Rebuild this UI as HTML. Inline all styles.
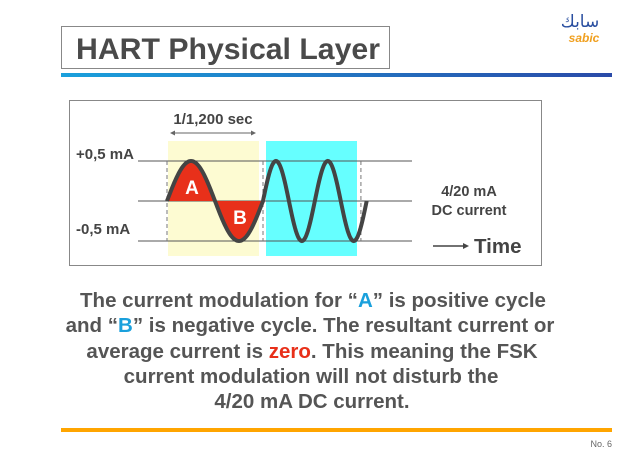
<!DOCTYPE html>
<html><head><meta charset="utf-8"><style>
body{margin:0;width:638px;height:456px;background:#fff;overflow:hidden;font-family:"Liberation Sans",Arial,sans-serif}
svg{position:absolute;left:0;top:0}
</style></head><body>
<svg width="638" height="456">
  <g>
    <text x="580" y="27" font-size="17" fill="#2a4fa0" text-anchor="middle" font-family="DejaVu Sans,sans-serif">سابك</text>
    <text x="584" y="42" font-size="12" fill="#f0a020" text-anchor="middle" font-style="italic" font-weight="bold">sabic</text>
  </g>
  <rect x="61.5" y="26.5" width="328" height="42" fill="#fff" stroke="#888" stroke-width="1"/>
  <text x="76" y="59" font-size="29.5" font-weight="bold" fill="#4a4a4a" textLength="304" lengthAdjust="spacingAndGlyphs">HART Physical Layer</text>
  <defs><linearGradient id="bg" x1="0" x2="1"><stop offset="0" stop-color="#1aa0dc"/><stop offset="1" stop-color="#2a4aa8"/></linearGradient></defs>
  <rect x="61" y="73" width="551" height="4" fill="url(#bg)"/>
  <rect x="69.5" y="100.5" width="472" height="165" fill="#fff" stroke="#888"/>
  <rect x="168" y="141" width="91" height="115" fill="#fdfbd2"/>
  <rect x="266" y="141" width="91" height="115" fill="#66ffff"/>
  <g id="chart"></g>
  <text x="213" y="124" font-size="15" font-weight="bold" fill="#444" text-anchor="middle">1/1,200 sec</text>
  <line x1="172" y1="133" x2="254" y2="133" stroke="#666" stroke-width="1"/>
  <polygon points="170,133 175,130.5 175,135.5" fill="#666"/>
  <polygon points="256,133 251,130.5 251,135.5" fill="#666"/>
  <text x="76" y="159" font-size="15" font-weight="bold" fill="#444">+0,5 mA</text>
  <text x="76" y="234" font-size="15" font-weight="bold" fill="#444">-0,5 mA</text>
  <text x="192" y="194" font-size="19" font-weight="bold" fill="#fff" text-anchor="middle">A</text>
  <text x="240" y="224" font-size="19" font-weight="bold" fill="#fff" text-anchor="middle">B</text>
  <text x="469" y="196" font-size="14.5" font-weight="bold" fill="#444" text-anchor="middle">4/20 mA</text>
  <text x="469" y="215" font-size="14.5" font-weight="bold" fill="#444" text-anchor="middle">DC current</text>
  <line x1="433" y1="246" x2="464" y2="246" stroke="#444" stroke-width="1.5"/>
  <polygon points="469,246 463,243 463,249" fill="#444"/>
  <text x="474" y="253" font-size="20.5" font-weight="bold" fill="#444">Time</text>
  <g font-size="20.5" font-weight="bold" fill="#555" text-anchor="middle">
    <text x="313" y="307">The current modulation for “<tspan fill="#1aa0dc">A</tspan>” is positive cycle</text>
    <text x="310" y="332">and “<tspan fill="#1aa0dc">B</tspan>” is negative cycle. The resultant current or</text>
    <text x="312" y="358">average current is <tspan fill="#e8301a">zero</tspan>. This meaning the FSK</text>
    <text x="311" y="383">current modulation will not disturb the</text>
    <text x="312" y="408">4/20 mA DC current.</text>
  </g>
  <rect x="61" y="428" width="551" height="4" fill="#ffa500"/>
  <text x="612" y="447" font-size="9" fill="#666" text-anchor="end">No. 6</text>
</svg>
<script>
const levels=[0.5,0,-0.5];
const segStart=[0,1];          // in units of low-freq periods
const segCycles=[1,2];          // cycles in each segment
const segDuration=[1,1.08];     // durations in low-freq periods
const amp=0.5;
const dashX=[0,1,2.02];
const NS="http://www.w3.org/2000/svg";
const x=t=>167+t*96, y=v=>201-v*80;
const g=document.getElementById('chart');
function mk(tag,at){const e=document.createElementNS(NS,tag);for(const k in at)e.setAttribute(k,at[k]);g.appendChild(e);return e;}
levels.forEach((l,i)=>{const e=mk('line',{x1:138,x2:412,y1:y(l),y2:y(l),stroke:'#555','stroke-width':1});

});
dashX.forEach(d=>{const e=mk('line',{x1:x(d),x2:x(d),y1:y(0.5),y2:y(-0.5),stroke:'#777','stroke-dasharray':'4,3'});

});
function sinPts(t0,dur,cyc,from,to){let p=[];for(let i=0;i<=40;i++){const f=from+(to-from)*i/40;p.push(x(t0+f*dur)+','+y(amp*Math.sin(2*Math.PI*cyc*f)));}return p;}
const fa=mk('polygon',{points:sinPts(0,1,1,0,0.5).join(' '),fill:'#e8301a'});


const fb=mk('polygon',{points:sinPts(0,1,1,0.5,1).join(' '),fill:'#e8301a'});


let pts=[];
segStart.forEach((s,i)=>{for(let k=0;k<=120;k++){const f=k/120;pts.push(x(s+f*segDuration[i])+','+y(amp*Math.sin(2*Math.PI*segCycles[i]*f)));}});
const w=mk('polyline',{points:pts.join(' '),fill:'none',stroke:'#444','stroke-width':4});


</script>
</body></html>
